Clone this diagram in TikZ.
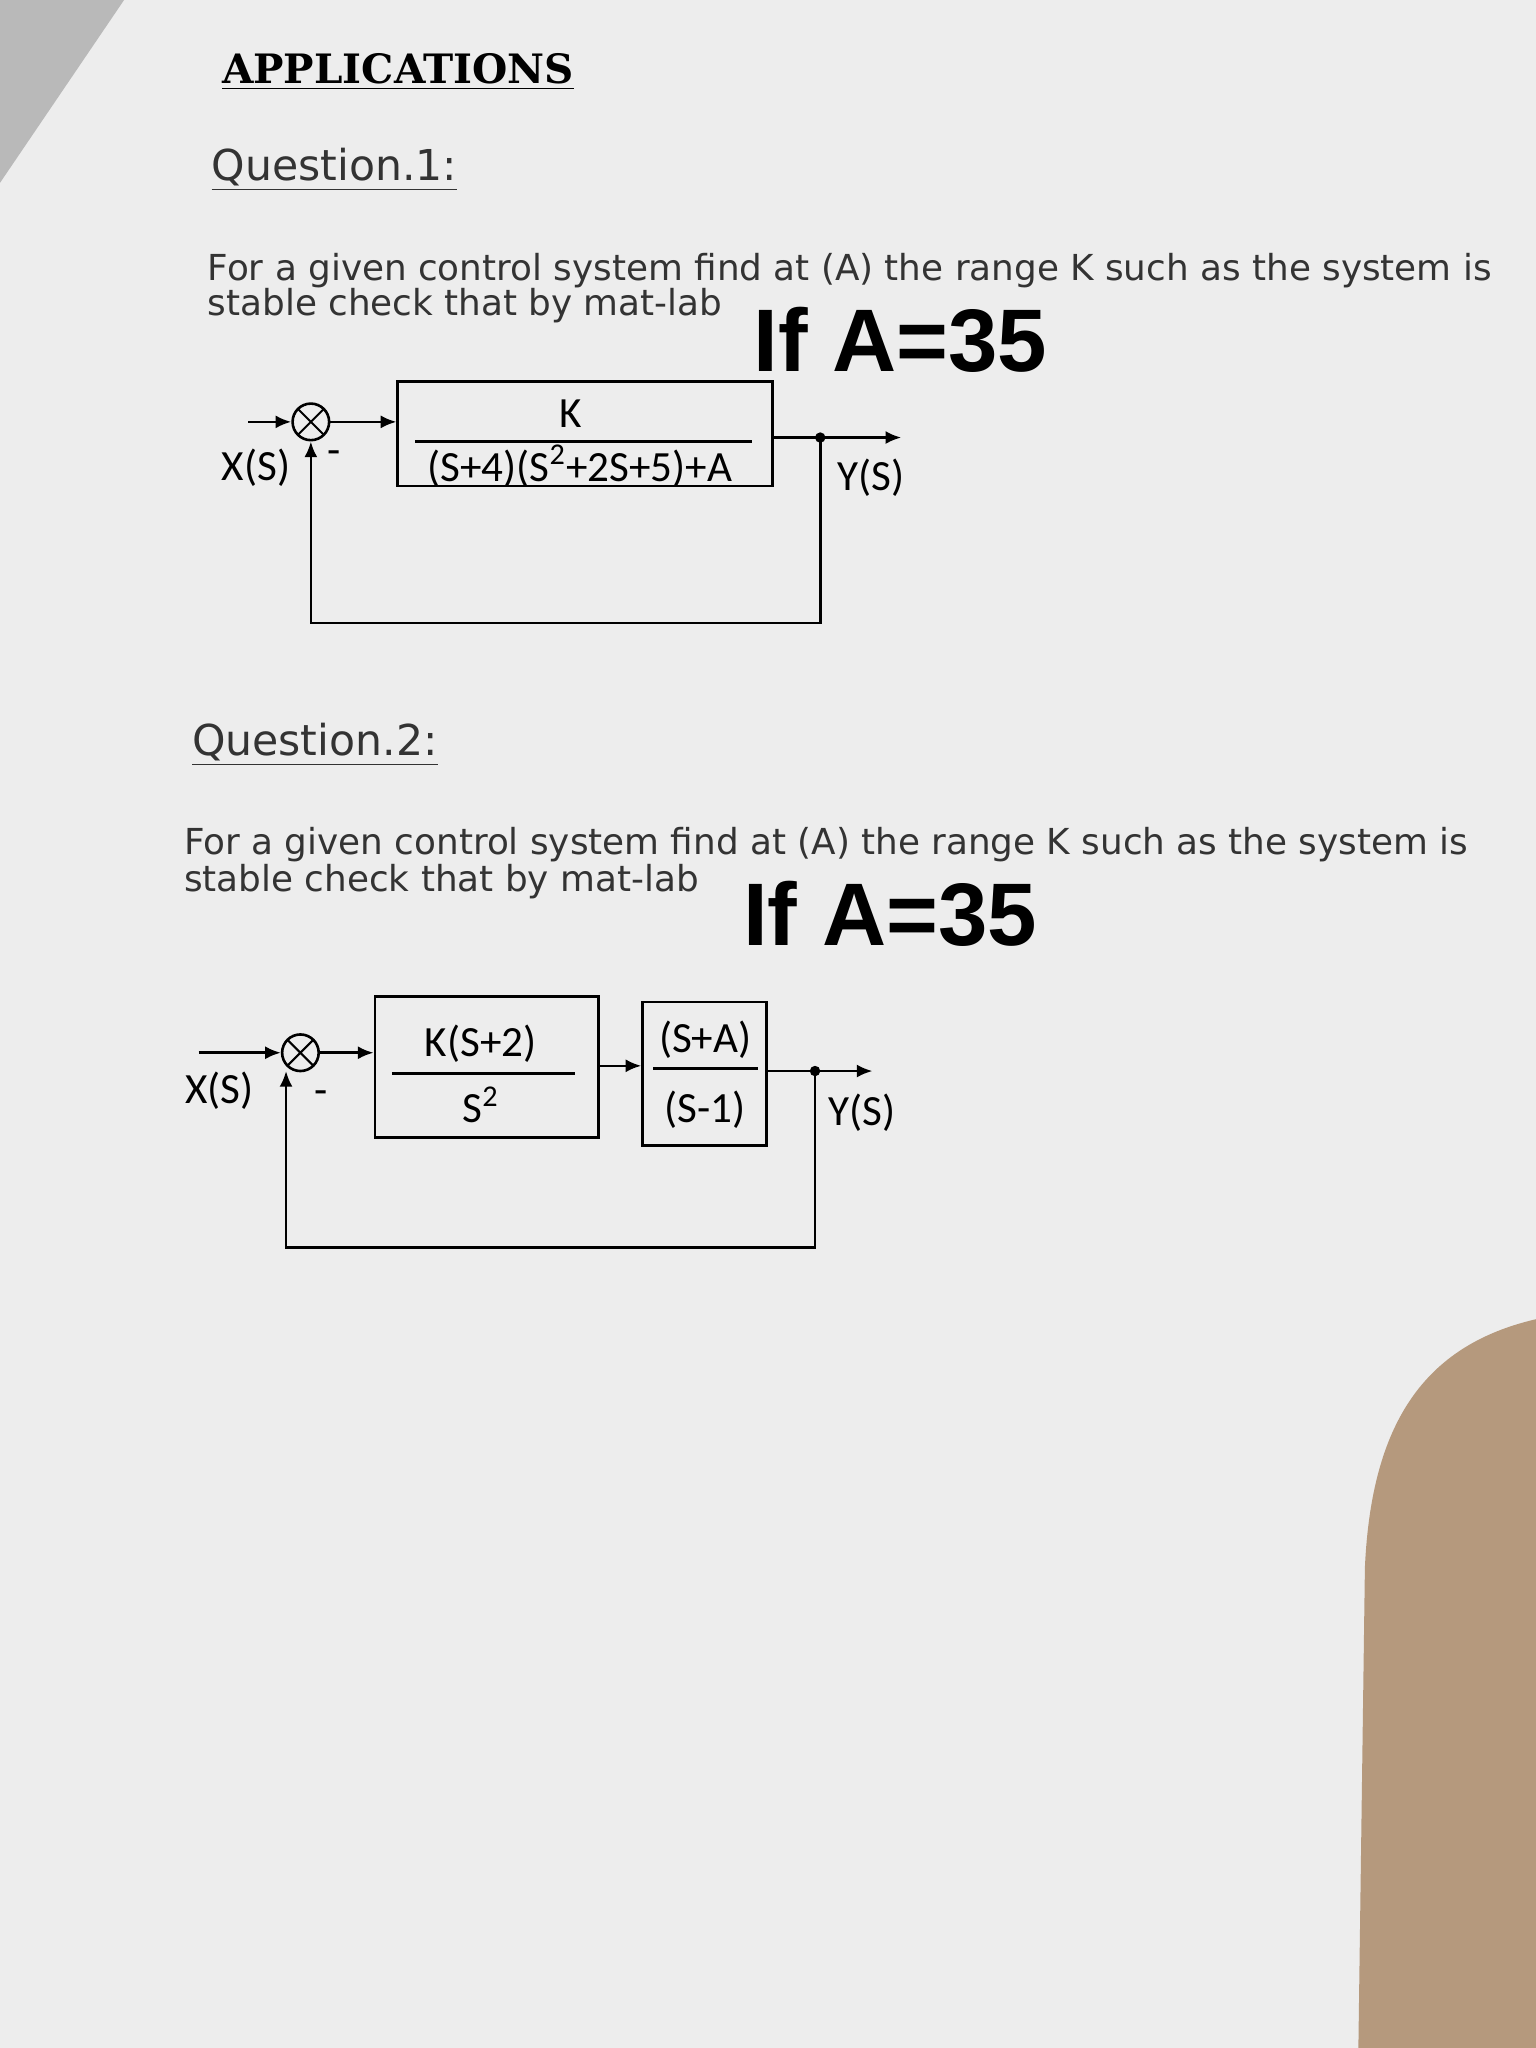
\documentclass[tikz,border=0pt]{standalone}
\usepackage{fontspec}
\setmainfont{DejaVu Sans}
\newfontfamily\headfont{DejaVu Serif}
\newfontfamily\boldsans{Liberation Sans}
\newfontfamily\diag{Carlito}
\usetikzlibrary{arrows.meta}
\begin{document}
\begin{tikzpicture}[x=0.5pt,y=-0.5pt,
  blk/.style={draw,line width=1pt,inner sep=0pt},
  sumj/.style={draw,circle,line width=1pt,minimum size=14pt,inner sep=0pt,
    path picture={\draw[line width=0.8pt] (path picture bounding box.south west)--(path picture bounding box.north east) (path picture bounding box.north west)--(path picture bounding box.south east);}},
  sig/.style={line width=1pt,-{Latex[length=6pt,width=5pt]}},
  wire/.style={line width=1pt},
  dlab/.style={font=\diag\fontsize{16.5}{18}\selectfont},
  body/.style={font=\fontsize{13.7}{16}\selectfont,anchor=west,text=black!80},
  big/.style={font=\boldsans\bfseries\fontsize{34}{36}\selectfont,anchor=west}]
\useasboundingbox (0,0) rectangle (1176,1568);
\fill[gray!14] (0,0) rectangle (1176,1568);
\fill[gray!55] (0,0) -- (95,0) -- (0,140) -- cycle;
\fill[brown!55!gray!80] (1176,1010) .. controls (1090,1030) and (1050,1090) .. (1045,1200) -- (1040,1568) -- (1176,1568) -- cycle;
% headings
\node[anchor=west,font=\headfont\bfseries\fontsize{15.5}{18}\selectfont] (app) at (163,55) {\underline{APPLICATIONS}};
\node[anchor=west,font=\fontsize{16.3}{18}\selectfont,text=black!80] (q1) at (155,130) {\underline{Question.1:}};
\node[body] (t1) at (152,207) {For a given control system find at (A) the range K such as the system is};
\node[body] (t2) at (152,234) {stable check that by mat-lab};
\node[big] (a1) at (570,260) {If A=35};
\node[anchor=west,font=\fontsize{16.3}{18}\selectfont,text=black!80] (q2) at (140,570) {\underline{Question.2:}};
\node[body] (t3) at (134,647) {For a given control system find at (A) the range K such as the system is};
\node[body] (t4) at (134,675) {stable check that by mat-lab};
\node[big] (a2) at (562,700) {If A=35};
% diagram 1
\node[sumj] (s1) at (238,323) {};
\node[blk,minimum width=143.5pt,minimum height=40pt] (g1) at (448,332) {};
\node[dlab] at (437,317) {K};
\draw[wire] (318,338) -- (576,338);
\node[dlab] at (444,357) {(S+4)(S\textsuperscript{2}+2S+5)+A};
\coordinate (in1) at (190,323);
\coordinate (o1) at (690,335);
\coordinate (b1) at (628,335);
\draw[sig] (in1) -- (s1.west);
\draw[sig] (s1.east) -- (g1.west |- s1);
\draw[sig] (g1.east |- o1) -- (o1);
\fill (b1) circle (4);
\draw[sig] (b1) -- (628,477) -| (s1.south);
\node[dlab] at (196,358) {X(S)};
\node[dlab] at (256,350) {-};
\node[dlab] at (667,366) {Y(S)};
% diagram 2
\node[sumj] (s2) at (230,806) {};
\node[blk,minimum width=85.5pt,minimum height=54pt] (g2) at (372.5,817) {};
\node[dlab] at (368,799) {K(S+2)};
\draw[wire] (300,822) -- (440,822);
\node[dlab] at (368,846) {S\textsuperscript{2}};
\node[blk,minimum width=47.5pt,minimum height=55pt] (g3) at (539.5,822) {};
\node[dlab] at (540,796) {(S+A)};
\draw[wire] (500,818) -- (580,818);
\node[dlab] at (540,850) {(S-1)};
\coordinate (in2) at (152,806);
\coordinate (o2) at (668,820);
\coordinate (b2) at (624,820);
\draw[sig] (in2) -- (s2.west);
\draw[sig] (s2.east) -- (g2.west |- s2);
\draw[sig] (g2.east |- 0,816) -- (g3.west |- 0,816);
\draw[sig] (g3.east |- o2) -- (o2);
\fill (b2) circle (4);
\draw[sig] (b2) -- (624,955) -- (219,955) -- (219,820);
\node[dlab] at (168,835) {X(S)};
\node[dlab] at (246,840) {-};
\node[dlab] at (660,852) {Y(S)};
\end{tikzpicture}
\end{document}
